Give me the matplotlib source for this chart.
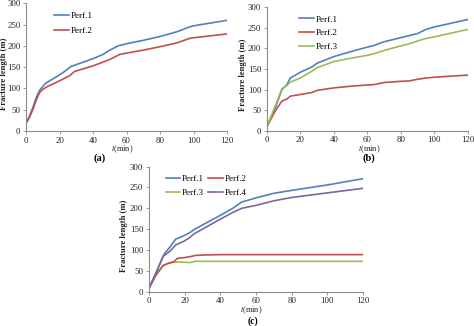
import matplotlib
matplotlib.use('Agg')
import matplotlib.pyplot as plt

plt.rcParams['font.family'] = 'Liberation Serif'
plt.rcParams['mathtext.fontset'] = 'stix'

# Panel (a)
a_t1 = [0, 2, 4, 6, 8, 10, 12, 15, 20, 23, 27, 30, 40, 46, 50, 55, 60, 70, 80, 90, 98, 100, 120]
a_perf1 = [18, 35, 55, 78, 95, 105, 113, 120, 132, 140, 152, 156, 170, 180, 190, 200, 205, 213, 222, 233, 245, 247, 260]
a_t2 = [0, 2, 4, 6, 8, 10, 13, 20, 26, 29, 40, 46, 50, 56, 60, 70, 80, 90, 98, 100, 120]
a_perf2 = [18, 32, 50, 72, 90, 98, 105, 118, 130, 140, 153, 162, 168, 180, 183, 190, 198, 207, 218, 219, 228]

# Panel (b)
b_t = [0, 5, 9, 12, 14, 20, 27, 30, 40, 50, 60, 64, 70, 80, 85, 90, 95, 100, 120]
b_perf1 = [10, 55, 100, 112, 128, 142, 155, 164, 180, 192, 203, 207, 216, 226, 231, 236, 246, 252, 270]
b_perf2 = [10, 48, 72, 77, 84, 88, 93, 98, 104, 108, 111, 112, 117, 120, 121, 125, 128, 130, 135]
b_perf3 = [10, 60, 102, 110, 118, 128, 145, 153, 168, 176, 183, 187, 195, 206, 211, 218, 224, 228, 246]

# Panel (c)
c_t14 = [0, 4, 8, 9, 12, 15, 20, 23, 25, 30, 40, 47, 52, 60, 70, 80, 100, 120]
c_perf1 = [8, 45, 85, 93, 108, 126, 135, 142, 148, 160, 183, 200, 215, 225, 236, 243, 256, 271]
c_perf4 = [8, 45, 85, 88, 98, 112, 122, 130, 138, 150, 174, 190, 200, 207, 218, 226, 237, 248]
c_t23 = [0, 4, 8, 11, 14, 16, 20, 23, 26, 30, 40, 60, 120]
c_perf2 = [8, 40, 63, 68, 72, 80, 82, 84, 87, 88, 89, 89, 89]
c_perf3 = [8, 40, 63, 69, 71, 71, 71, 70, 73, 73, 73, 73, 73]

BLUE, RED, GREEN, PURPLE = '#4F81BD', '#C0504D', '#9BBB59', '#8064A2'

fig = plt.figure(figsize=(4.74, 3.26), dpi=100)
ax_a = fig.add_axes([0.055, 0.598, 0.424, 0.392])
ax_b = fig.add_axes([0.563, 0.599, 0.424, 0.379])
ax_c = fig.add_axes([0.314, 0.105, 0.452, 0.384])


def style(ax, xlab_x, xlab_y, ylab_x):
    ax.set_xlim(0, 120)
    ax.set_ylim(0, 300)
    ax.set_xticks(range(0, 121, 20))
    ax.set_yticks(range(0, 301, 50))
    for s in ['top', 'right']:
        ax.spines[s].set_visible(False)
    for s in ['left', 'bottom']:
        ax.spines[s].set_color('#8c8c8c')
        ax.spines[s].set_linewidth(0.8)
    ax.tick_params(labelsize=6.3, length=2.5, width=0.6, color='#8c8c8c', pad=1.5,
                   labelcolor='#222222')
    ax.set_xlabel('$t$(min)', fontsize=6, color='#222222')
    ax.xaxis.set_label_coords(xlab_x, xlab_y)
    ax.set_ylabel('Fracture length (m)', fontsize=6.2, fontweight='bold', color='#222222')
    ax.yaxis.set_label_coords(ylab_x, 0.45)


ax_a.plot(a_t1, a_perf1, color=BLUE, lw=1.2, label='Perf.1')
ax_a.plot(a_t2, a_perf2, color=RED, lw=1.2, label='Perf.2')
style(ax_a, 0.48, -0.1, -0.09)
ax_a.legend(loc='upper left', bbox_to_anchor=(0.1, 1.0), frameon=False, fontsize=6.5,
            handlelength=1.6, handletextpad=0.2, labelspacing=0.8)
fig.text(0.211, 0.515, '(a)', fontsize=7.5, fontweight='bold', ha='center', va='center')

ax_b.plot(b_t, b_perf1, color=BLUE, lw=1.2, label='Perf.1')
ax_b.plot(b_t, b_perf2, color=RED, lw=1.2, label='Perf.2')
ax_b.plot(b_t, b_perf3, color=GREEN, lw=1.2, label='Perf.3')
style(ax_b, 0.507, -0.1, -0.1)
ax_b.legend(loc='upper left', bbox_to_anchor=(0.12, 1.0), frameon=False, fontsize=6.5,
            handlelength=1.6, handletextpad=0.2, labelspacing=0.6)
fig.text(0.778, 0.515, '(b)', fontsize=7.5, fontweight='bold', ha='center', va='center')

ax_c.plot(c_t14, c_perf1, color=BLUE, lw=1.2, label='Perf.1')
ax_c.plot(c_t23, c_perf3, color=GREEN, lw=1.2, label='Perf.3')
ax_c.plot(c_t23, c_perf2, color=RED, lw=1.2, label='Perf.2')
ax_c.plot(c_t14, c_perf4, color=PURPLE, lw=1.2, label='Perf.4')
style(ax_c, 0.48, -0.1, -0.098)
ax_c.legend(loc='upper left', bbox_to_anchor=(0.04, 1.0), ncol=2, frameon=False, fontsize=6.5,
            handlelength=1.6, handletextpad=0.2, labelspacing=0.6, columnspacing=0.5)
fig.text(0.534, 0.0, '(c)', fontsize=7, fontweight='bold', ha='center', va='bottom')

fig.savefig('out.png', dpi=100)
